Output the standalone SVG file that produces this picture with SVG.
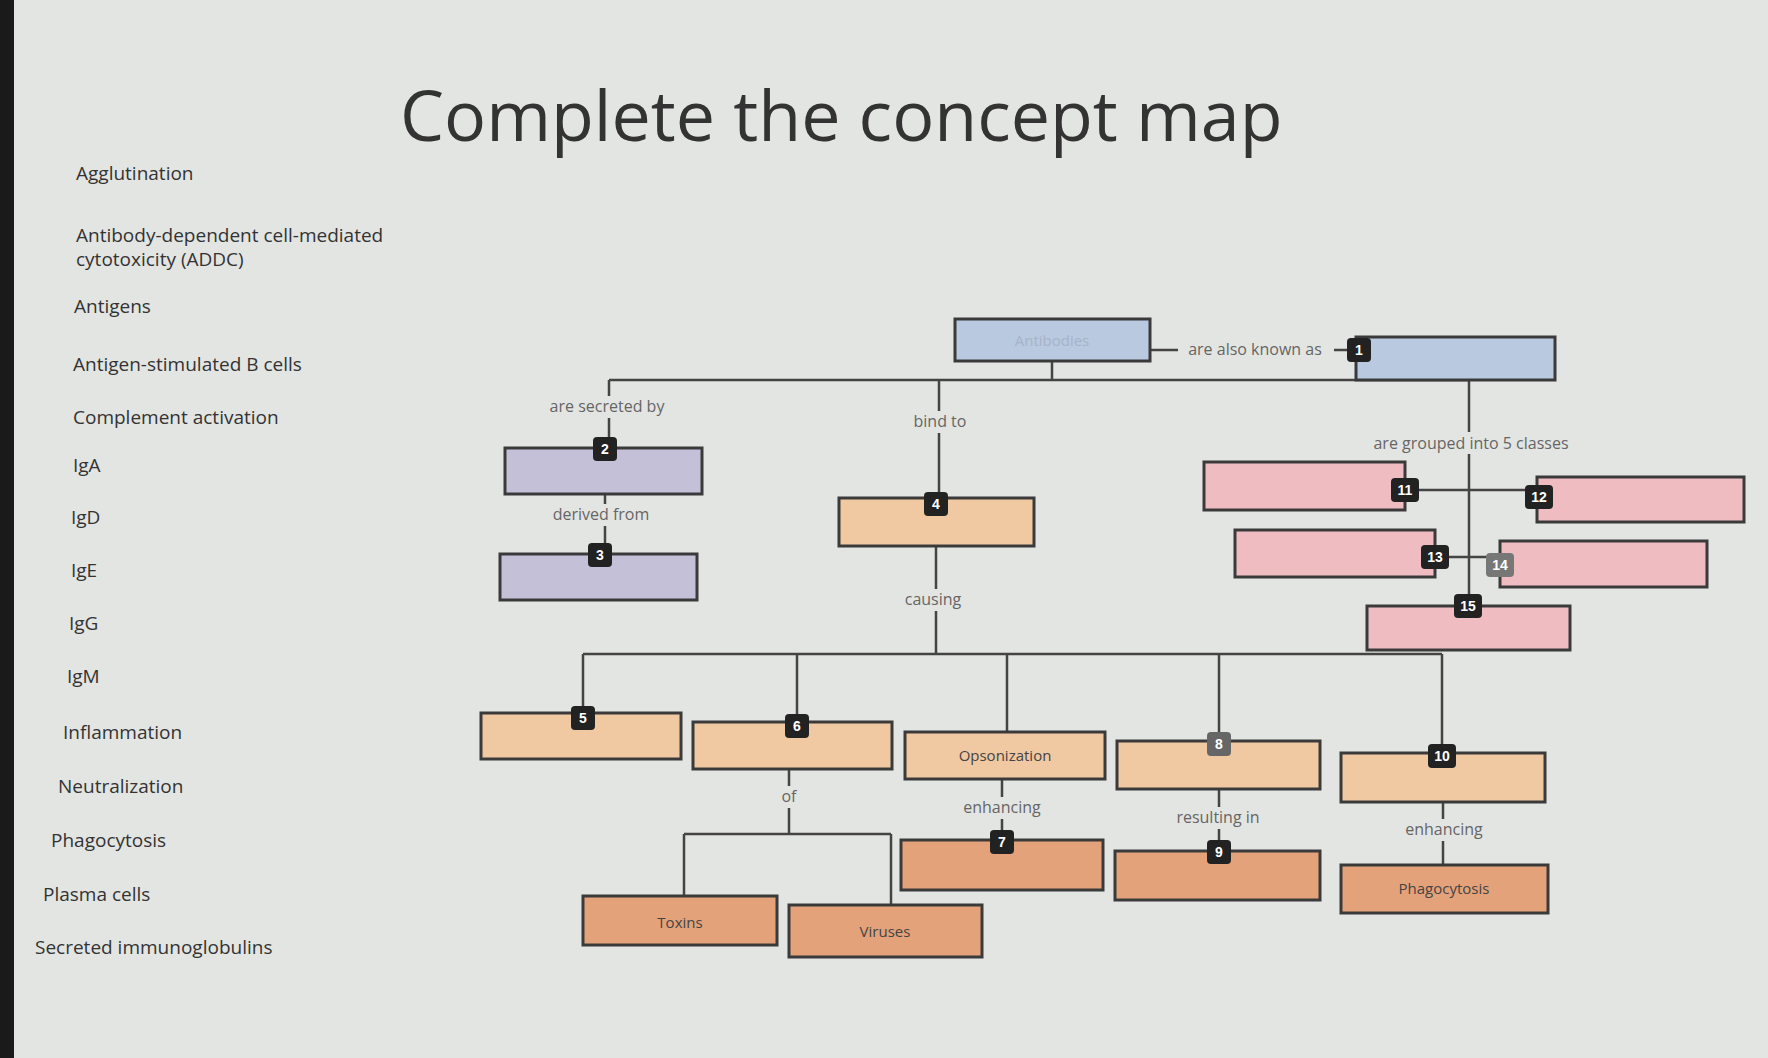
<svg xmlns="http://www.w3.org/2000/svg" width="1768" height="1058" viewBox="0 0 1768 1058">
<style>
.w{font-family:"Open Sans","Liberation Sans",sans-serif;font-size:19px;fill:#333}
.l{font-family:"Open Sans","Liberation Sans",sans-serif;font-size:16px;fill:#666;text-anchor:middle}
.n{stroke:#3a3a3a;stroke-width:3}
.b{fill:#b9c9e0}.p{fill:#c3c0d8}.o{fill:#f0c9a3}.r{fill:#eebcc1}.d{fill:#e4a27a}
.c{fill:none;stroke:#444;stroke-width:2.5}
.m{fill:#e3e5e2}
.bg rect{fill:#222;rx:4}
.bg text{font-family:"Liberation Sans",sans-serif;font-size:14px;font-weight:bold;fill:#fff;text-anchor:middle}
.t{font-family:"Open Sans","Liberation Sans",sans-serif;font-size:15px;fill:#444;text-anchor:middle}
</style>
<rect width="1768" height="1058" fill="#e3e5e2"/>
<rect width="14" height="1058" fill="#1a1a1a"/>
<text x="400" y="141" font-family="Open Sans, Liberation Sans, sans-serif" font-size="70" fill="#333">Complete the concept map</text>
<g id="wordlist" class="w">
<text x="76" y="180">Agglutination</text>
<text x="76" y="242">Antibody-dependent cell-mediated</text>
<text x="76" y="266">cytotoxicity (ADDC)</text>
<text x="74" y="313">Antigens</text>
<text x="73" y="371">Antigen-stimulated B cells</text>
<text x="73" y="424">Complement activation</text>
<text x="73" y="472">IgA</text>
<text x="71" y="524">IgD</text>
<text x="71" y="577">IgE</text>
<text x="69" y="630">IgG</text>
<text x="67" y="683">IgM</text>
<text x="63" y="739">Inflammation</text>
<text x="58" y="793">Neutralization</text>
<text x="51" y="847">Phagocytosis</text>
<text x="43" y="901">Plasma cells</text>
<text x="35" y="954">Secreted immunoglobulins</text>
</g>
<g id="connectors" class="c">
<path d="M1150 350H1356"/>
<path d="M1052 361V380M609 380H1469V606M609 380V448M939 380V498"/>
<path d="M605 494V554M936 546V654M583 654H1442M583 654V713M797 654V722M1007 654V732M1219 654V741M1442 654V753"/>
<path d="M789 769V834M684 834H891M684 834V896M891 834V905"/>
<path d="M1002 779V840M1219 789V851M1443 802V865"/>
<path d="M1405 490H1539M1435 557H1500"/>
</g>
<g id="labelmasks" class="m">
<rect x="1178" y="338" width="156" height="22"/>
<rect x="545" y="396" width="125" height="22"/>
<rect x="545" y="504" width="115" height="22"/>
<rect x="905" y="411" width="70" height="22"/>
<rect x="900" y="589" width="70" height="22"/>
<rect x="1370" y="432" width="200" height="22"/>
<rect x="775" y="786" width="30" height="22"/>
<rect x="960" y="797" width="85" height="22"/>
<rect x="1170" y="807" width="95" height="22"/>
<rect x="1400" y="819" width="85" height="22"/>
</g>
<g id="labels" class="l">
<text x="1255" y="355">are also known as</text>
<text x="607" y="412">are secreted by</text>
<text x="601" y="520">derived from</text>
<text x="940" y="427">bind to</text>
<text x="933" y="605">causing</text>
<text x="1471" y="449">are grouped into 5 classes</text>
<text x="789" y="802">of</text>
<text x="1002" y="813">enhancing</text>
<text x="1218" y="823">resulting in</text>
<text x="1444" y="835">enhancing</text>
</g>
<g id="n1"><rect class="n b" x="955" y="319" width="195" height="42"/><text x="1052" y="346" class="t" style="fill:#a7b3c6">Antibodies</text></g>
<g id="n16"><rect class="n b" x="1356" y="337" width="199" height="43"/></g>
<g id="n2"><rect class="n p" x="505" y="448" width="197" height="46"/></g>
<g id="n3"><rect class="n p" x="500" y="554" width="197" height="46"/></g>
<g id="n4"><rect class="n o" x="839" y="498" width="195" height="48"/></g>
<g id="n5"><rect class="n o" x="481" y="713" width="200" height="46"/></g>
<g id="n6"><rect class="n o" x="693" y="722" width="199" height="47"/></g>
<g id="nOps"><rect class="n o" x="905" y="732" width="200" height="47"/><text class="t" x="1005" y="761">Opsonization</text></g>
<g id="n8"><rect class="n o" x="1117" y="741" width="203" height="48"/></g>
<g id="n10"><rect class="n o" x="1341" y="753" width="204" height="49"/></g>
<g id="nTox"><rect class="n d" x="583" y="896" width="194" height="49"/><text class="t" x="680" y="928">Toxins</text></g>
<g id="nVir"><rect class="n d" x="789" y="905" width="193" height="52"/><text class="t" x="885" y="937">Viruses</text></g>
<g id="n7"><rect class="n d" x="901" y="840" width="202" height="50"/></g>
<g id="n9"><rect class="n d" x="1115" y="851" width="205" height="49"/></g>
<g id="nPhag"><rect class="n d" x="1341" y="865" width="207" height="48"/><text class="t" x="1444" y="894">Phagocytosis</text></g>
<g id="n11"><rect class="n r" x="1204" y="462" width="201" height="48"/></g>
<g id="n12"><rect class="n r" x="1537" y="477" width="207" height="45"/></g>
<g id="n13"><rect class="n r" x="1235" y="530" width="200" height="47"/></g>
<g id="n14"><rect class="n r" x="1500" y="541" width="207" height="46"/></g>
<g id="n15"><rect class="n r" x="1367" y="606" width="203" height="44"/></g>
<g id="badges" class="bg">
<rect x="1347" y="338" width="24" height="24"/><text x="1359" y="355">1</text>
<rect x="593" y="437" width="24" height="24"/><text x="605" y="454">2</text>
<rect x="588" y="543" width="24" height="24"/><text x="600" y="560">3</text>
<rect x="924" y="492" width="24" height="24"/><text x="936" y="509">4</text>
<rect x="571" y="706" width="24" height="24"/><text x="583" y="723">5</text>
<rect x="785" y="714" width="24" height="24"/><text x="797" y="731">6</text>
<rect x="990" y="830" width="24" height="24"/><text x="1002" y="847">7</text>
<rect x="1207" y="732" width="24" height="24" style="fill:#666"/><text x="1219" y="749">8</text>
<rect x="1207" y="840" width="24" height="24"/><text x="1219" y="857">9</text>
<rect x="1428" y="744" width="28" height="24"/><text x="1442" y="761">10</text>
<rect x="1391" y="478" width="28" height="24"/><text x="1405" y="495">11</text>
<rect x="1525" y="485" width="28" height="24"/><text x="1539" y="502">12</text>
<rect x="1421" y="545" width="28" height="24"/><text x="1435" y="562">13</text>
<rect x="1486" y="553" width="28" height="24" style="fill:#777"/><text x="1500" y="570">14</text>
<rect x="1454" y="594" width="28" height="24"/><text x="1468" y="611">15</text>
</g>
</svg>
